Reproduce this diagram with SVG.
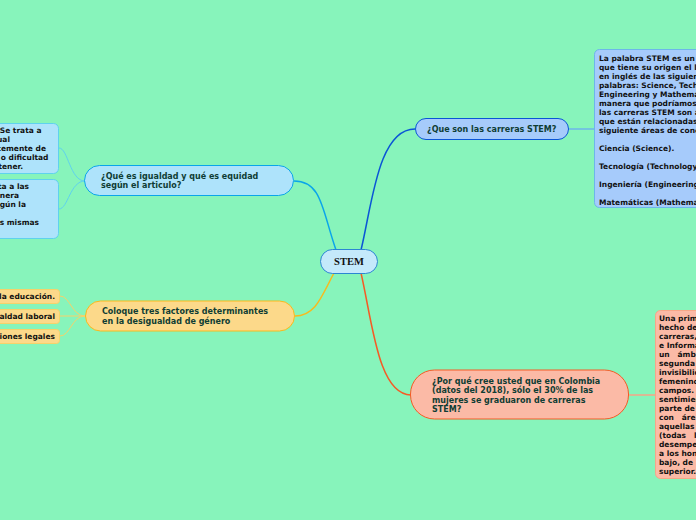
<svg xmlns="http://www.w3.org/2000/svg" width="696" height="520" viewBox="0 0 696 520">
<style>
text{font-family:"DejaVu Sans",Verdana,sans-serif;font-weight:700;fill:#0f3d34}
.s{font-size:7.500px;fill:#111;white-space:pre}
.m{font-size:8px}
.e{text-anchor:end}
.c{fill:none;stroke-width:1.500}
.l{fill:none;stroke-width:1}
</style>
<rect width="696" height="520" fill="#87f4bb"/>
<g id="connectors">
<path class="c" d="M361 250C372 205 378 129 415 129" stroke="#0a55d6"/>
<path class="c" d="M336 250C322 210 322 181 294 181" stroke="#0aa5ea"/>
<path class="c" d="M334 273C322 295 316 316 295 316" stroke="#f9b91c"/>
<path class="c" d="M361 273C372 320 378 395 411 395" stroke="#f55a25"/>
<path class="l" d="M569 129H595" stroke="#6cb6ea" style="stroke-width:1.500"/>
<path class="l" d="M629 395H655" stroke="#f7a687" style="stroke-width:1.500"/>
<path class="l" d="M85 181C70 181 68 148 59 148" stroke="#5fd2ee"/>
<path class="l" d="M85 181C70 181 68 209 59 209" stroke="#5fd2ee"/>
<path class="l" d="M85 316C72 316 70 296 60 296" stroke="#f6d26a"/>
<path class="l" d="M85 316H60" stroke="#f6d26a"/>
<path class="l" d="M85 316C72 316 70 336 60 336" stroke="#f6d26a"/>
</g>
<g id="root">
<rect x="320.500" y="249.500" width="57" height="24" rx="12" fill="#c4e9fb" stroke="#2b86d2"/>
<text x="349" y="265" text-anchor="middle" style="font-family:'Liberation Serif',serif;font-size:10.500px;fill:#111">STEM</text>
</g>
<g id="n1">
<rect x="415.500" y="118.500" width="153" height="21" rx="10.500" fill="#a6cbfb" stroke="#0a55d6"/>
<text class="m" x="427" y="132">¿Que son las carreras STEM?</text>
</g>
<g id="n2">
<rect x="84.500" y="165.500" width="209" height="30" rx="15" fill="#aee3fb" stroke="#0aa5ea"/>
<text class="m" x="101" y="179">¿Qué es igualdad y qué es equidad</text>
<text class="m" x="101" y="188">según el articulo?</text>
</g>
<g id="n3">
<rect x="85.500" y="301" width="209" height="30" rx="15" fill="#fcd98a" stroke="#f9b91c"/>
<text class="m" x="102" y="314">Coloque tres factores determinantes</text>
<text class="m" x="102" y="324">en la desigualdad de género</text>
</g>
<g id="n4">
<rect x="410.500" y="370" width="218" height="49" rx="24" fill="#fbbaa6" stroke="#f55a25"/>
<text class="m" x="432" y="384">¿Por qué cree usted que en Colombia</text>
<text class="m" x="432" y="393">(datos del 2018), sólo el 30% de las</text>
<text class="m" x="432" y="403">mujeres se graduaron de carreras</text>
<text class="m" x="432" y="412">STEM?</text>
</g>
<g id="n1a">
<rect x="594.500" y="49.500" width="120" height="158" rx="5" fill="#a6cbfb" stroke="#6cb6ea"/>
<text class="s" x="599" y="61">La palabra STEM es un</text>
<text class="s" x="599" y="70">que tiene su origen el l</text>
<text class="s" x="599" y="79">en inglés de las siguien</text>
<text class="s" x="599" y="88">palabras: Science, Tech</text>
<text class="s" x="599" y="97">Engineering y Mathema</text>
<text class="s" x="599" y="106">manera que podríamos</text>
<text class="s" x="599" y="115">las carreras STEM son a</text>
<text class="s" x="599" y="124">que están relacionadas</text>
<text class="s" x="599" y="133">siguiente áreas de cono</text>
<text class="s" x="599" y="151">Ciencia (Science).</text>
<text class="s" x="599" y="169">Tecnología (Technology</text>
<text class="s" x="599" y="187">Ingeniería (Engineering</text>
<text class="s" x="599" y="205">Matemáticas (Mathema</text>
</g>
<g id="n4a">
<rect x="655.500" y="310.500" width="60" height="168" rx="5" fill="#fbbaa6" stroke="#f7a687"/>
<text class="s" x="659" y="321">Una prim</text>
<text class="s" x="659" y="330">hecho de</text>
<text class="s" x="659" y="339">carreras,</text>
<text class="s" x="659" y="348">e Informa</text>
<text class="s" x="659" y="357">un   ámb</text>
<text class="s" x="659" y="366">segunda</text>
<text class="s" x="659" y="375">invisibilid</text>
<text class="s" x="659" y="384">femenino</text>
<text class="s" x="659" y="393">campos.</text>
<text class="s" x="659" y="402">sentimien</text>
<text class="s" x="659" y="411">parte de</text>
<text class="s" x="659" y="420">con   áre</text>
<text class="s" x="659" y="429">aquellas</text>
<text class="s" x="659" y="438">(todas   l</text>
<text class="s" x="659" y="447">desempe</text>
<text class="s" x="659" y="456">a los hon</text>
<text class="s" x="659" y="465">bajo, de</text>
<text class="s" x="659" y="474">superior.</text>
</g>
<g id="n2a">
<rect x="-60" y="123.500" width="118.500" height="50" rx="5" fill="#aee3fb" stroke="#5fd2ee"/>
<text class="s e" x="41.500" y="133">Se trata a</text>
<text class="s e" x="10" y="142">ual</text>
<text class="s e" x="46" y="151">temente de</text>
<text class="s e" x="48.500" y="160">o dificultad</text>
<text class="s e" x="23" y="169">tener.</text>
</g>
<g id="n2b">
<rect x="-60" y="179.500" width="118.500" height="59" rx="5" fill="#aee3fb" stroke="#5fd2ee"/>
<text class="s e" x="29" y="189">ta a las</text>
<text class="s e" x="19" y="198">nera</text>
<text class="s e" x="26" y="207">gún la</text>
<text class="s e" x="39" y="225">s mismas</text>
</g>
<g id="n3a">
<rect x="-60" y="289.500" width="119.500" height="14" rx="3" fill="#fcd98a" stroke="#f6d26a"/>
<text class="s e" x="55" y="299">la educación.</text>
</g>
<g id="n3b">
<rect x="-60" y="309.500" width="119.500" height="14" rx="3" fill="#fcd98a" stroke="#f6d26a"/>
<text class="s e" x="55" y="319">aldad laboral</text>
</g>
<g id="n3c">
<rect x="-60" y="329.500" width="119.500" height="14" rx="3" fill="#fcd98a" stroke="#f6d26a"/>
<text class="s e" x="55" y="339">iones legales</text>
</g>
</svg>
